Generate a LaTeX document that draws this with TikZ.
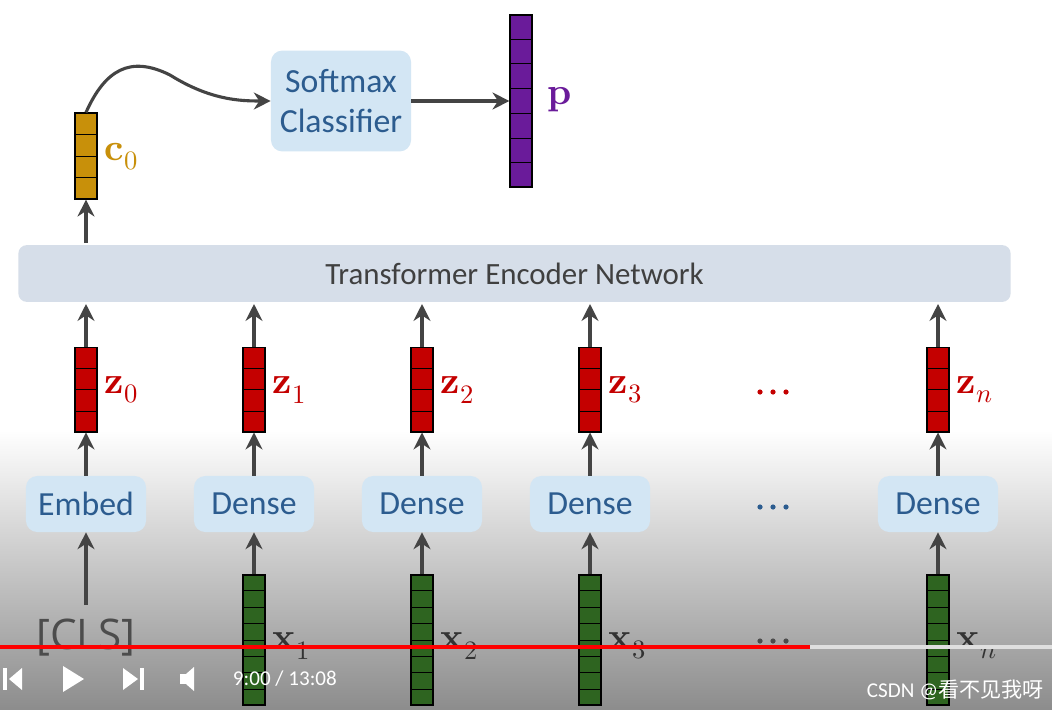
\documentclass[tikz,border=0pt]{standalone}
\usepackage{fontspec}
\setmainfont{Carlito}
\newfontfamily\cjk{Noto Sans CJK SC}
\newfontfamily\tfont{Open Sans}
\usepackage{unicode-math}
\setmathfont{Latin Modern Math}
\usetikzlibrary{arrows.meta,calc}
\definecolor{gold}{HTML}{C8900A}
\definecolor{purp}{HTML}{6A1B9A}
\definecolor{zred}{HTML}{C40000}
\definecolor{xgreen}{HTML}{2E6420}
\definecolor{boxfill}{HTML}{D3E6F4}
\definecolor{boxtext}{HTML}{2C5C8F}
\definecolor{tfill}{HTML}{D6DEE9}
\definecolor{arr}{HTML}{444444}
\newcommand\cellsplit[2]{%
  \foreach \k in {1,...,#2}{\draw[black,line width=0.6pt] ($(#1.north west)!\k/#2!(#1.south west)$) -- ($(#1.north east)!\k/#2!(#1.south east)$);}}
\newcommand\mydots[3]{\foreach \dx in {-13,0,13}{\fill[#3] (#1+\dx,#2) circle (2.6);}}
\begin{document}
\begin{tikzpicture}[x=0.025cm,y=-0.025cm,
  vecn/.style={draw=black,line width=0.8pt,minimum width=0.55cm,inner sep=0pt},
  blk/.style={fill=boxfill,rounded corners=8pt,text=boxtext,font=\fontsize{24}{27}\selectfont,inner sep=0pt},
  ar/.style={draw=arr,line width=2.2pt,-{Stealth[length=12pt,width=12pt]}},
  lab/.style={font=\fontsize{27}{29}\selectfont,anchor=west}]
\useasboundingbox (0,0) rectangle (1052,710);
\fill[white] (0,0) rectangle (1052,710);
\shade[top color=white,bottom color=black!45] (0,430) rectangle (1052,710);
% top
\node[vecn,fill=gold,minimum height=2.15cm] (c0) at (86,156) {};
\cellsplit{c0}{4}
\node[lab,text=gold] (lc0) at (100,157) {$\symbf{c}_0$};
\node[blk,minimum width=3.5cm,minimum height=2.52cm,align=center] (sm) at (341,101) {Softmax\\[2pt]Classifier};
\node[vecn,fill=purp,minimum height=4.3cm] (p) at (521,101) {};
\cellsplit{p}{7}
\node[lab,text=purp] (lp) at (543,100) {$\symbf{p}$};
\draw[ar] (c0.north) .. controls (105,70) and (130,55) .. (170,75) .. controls (210,100) and (240,101) .. (sm.west);
\draw[ar] (sm.east) -- (p.west);
\node[fill=tfill,rounded corners=6pt,minimum width=24.8cm,minimum height=1.42cm,font=\fontsize{22}{24}\selectfont,text=black!75] (tr) at (514.5,273.5) {Transformer Encoder Network};
\coordinate (tc0) at (86,243);
\draw[ar] (tc0) -- (c0.south);
% columns
\foreach \i/\xx/\sub in {0/86/0,1/254/1,2/422/2,3/590/3,4/938/n}{
  \node[vecn,fill=zred,minimum height=2.12cm] (z\i) at (\xx,389.5) {};
  \cellsplit{z\i}{4}
  \node[lab,text=zred] (lz\i) at (\xx+14,390) {$\symbf{z}_{\sub}$};
  \coordinate (t\i) at (\xx,304);
  \draw[ar] (z\i.north) -- (t\i);
}
\node[blk,minimum width=3.0cm,minimum height=1.4cm] (b0) at (86,504) {Embed};
\foreach \i/\xx/\sub in {1/254/1,2/422/2,3/590/3,4/938/n}{
  \node[blk,minimum width=3.0cm,minimum height=1.4cm] (b\i) at (\xx,504) {Dense};
  \node[vecn,fill=xgreen,minimum height=3.25cm] (x\i) at (\xx,640) {};
  \cellsplit{x\i}{8}
  \node[lab,text=black!80] (lx\i) at (\xx+14,646) {$\symbf{x}_{\sub}$};
  \draw[ar] (x\i.north) -- (b\i.south);
}
\foreach \i in {0,...,4}{\draw[ar] (b\i.north) -- (z\i.south);}
\node[font=\fontsize{30}{32}\selectfont\tfont,text=black!70] (cls) at (86,638) {[CLS]};
\coordinate (clst) at (86,605);
\draw[ar] (clst) -- (b0.south);
\mydots{773}{392}{zred}
\mydots{773}{507}{boxtext}
\mydots{773}{641}{black!70}
% player overlay
\draw[line width=3pt,white!75!gray] (810,647) -- (1052,647);
\draw[line width=3pt,red] (0,647) -- (810,647);
\fill[white] (3,668) rectangle (7,690); \fill[white] (22,668) -- (9,679) -- (22,690) -- cycle;
\fill[white] (63,666) -- (84,679) -- (63,692) -- cycle;
\fill[white] (123,668) -- (138,679) -- (123,690) -- cycle; \fill[white] (140,668) rectangle (144,690);
\fill[white] (180,674) rectangle (186,684); \fill[white] (186,674) -- (194,667) -- (194,691) -- (186,684) -- cycle;
\node[text=white,font=\fontsize{15}{16}\selectfont,anchor=west] (tm) at (228,679) {9:00 / 13:08};
\node[text=white,font=\fontsize{15}{16}\selectfont,anchor=west] (wm) at (862,690) {CSDN @{\cjk 看不见我呀}};
\end{tikzpicture}
\end{document}
